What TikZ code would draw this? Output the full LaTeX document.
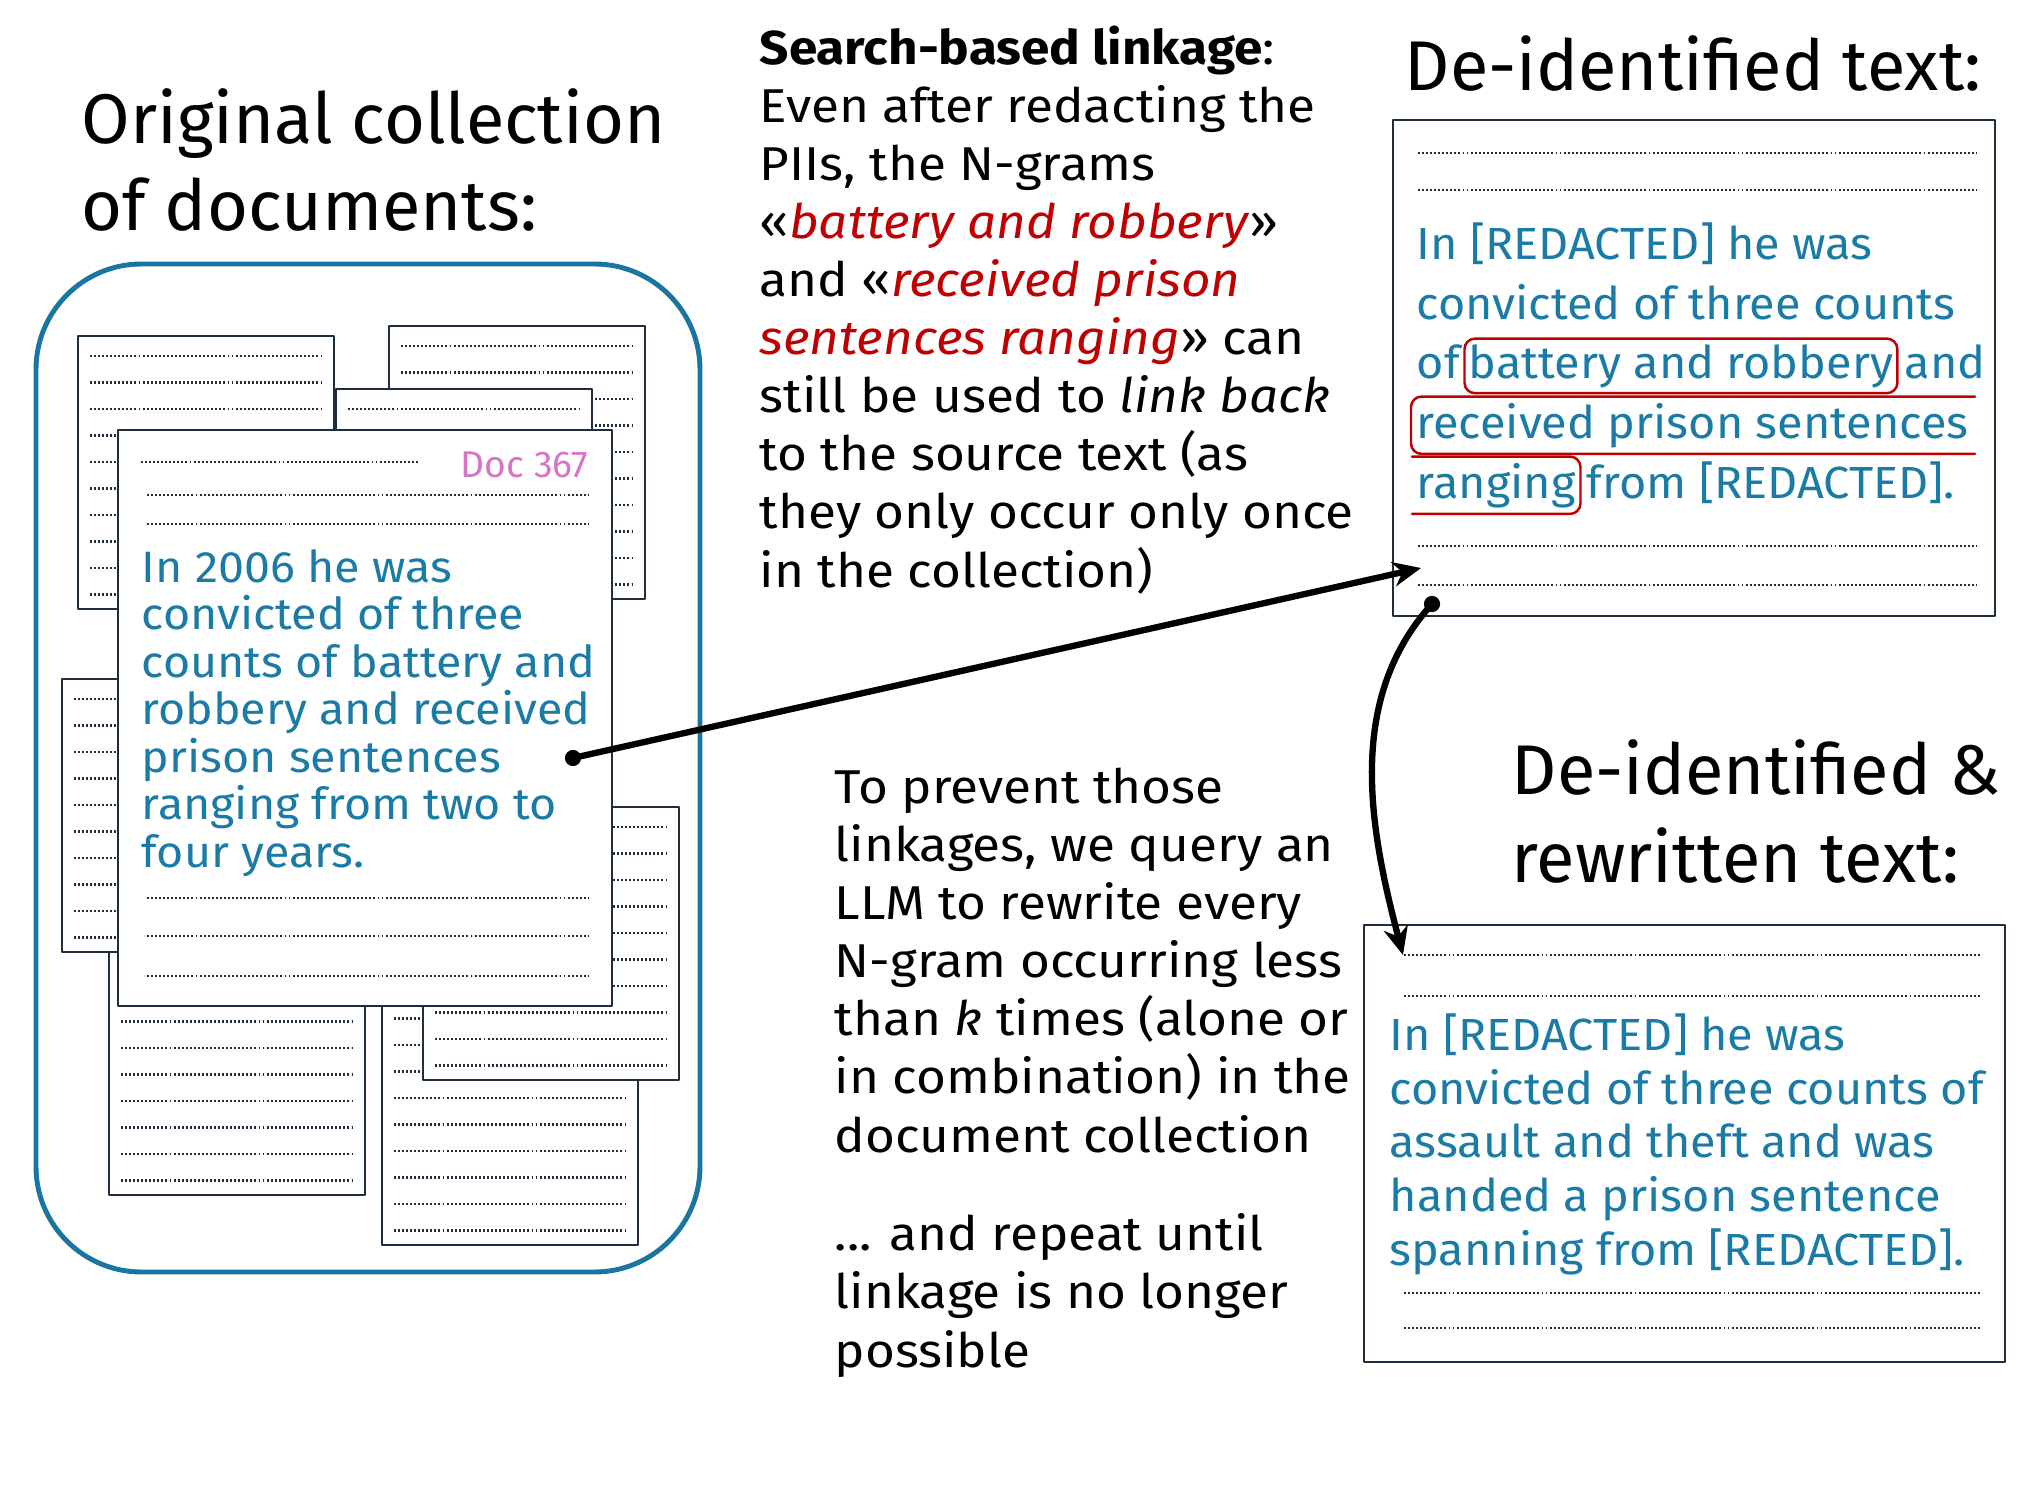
\documentclass[tikz,border=0pt]{standalone}
\usepackage{fontspec}
\setmainfont{Fira Sans}
\newfontfamily\bodyfont{Fira Sans}[FakeStretch=1.08]
\newfontfamily\widefont{Fira Sans}[FakeStretch=1.06]
\newfontfamily\narrowfont{Fira Sans}[FakeStretch=1.04]
\usetikzlibrary{calc,arrows.meta,positioning}

\definecolor{frameblue}{HTML}{1A75A0}
\definecolor{textblue}{HTML}{1A7BA6}
\definecolor{docpink}{HTML}{D774C8}
\definecolor{hlred}{HTML}{C00000}
\definecolor{sheetnavy}{HTML}{1E2E3E}

% ===== 紙（点線付き） =====
\newcommand\sheet[2]{%
  \draw[sheetbox] (#1,#2) rectangle ++(256,273);
  \foreach \k in {0,...,9}
    \draw[sheetline] (#1+12,#2+20+26.5*\k) -- ++(231,0);
}

\begin{document}
\begin{tikzpicture}[x=0.01cm, y=-0.01cm, >={Stealth[length=8pt,width=7pt]},
  line cap=round, line join=round,
  title/.style={anchor=base west, inner sep=0pt, align=left,
    font=\fontsize{20}{25}\selectfont},
  body/.style={anchor=base west, inner sep=0pt, align=left,
    font=\bodyfont\fontsize{13.5}{16.5}\selectfont},
  doctext/.style={anchor=base west, inner sep=0pt, align=left, text=textblue,
    font=\widefont\fontsize{12.5}{13.5}\selectfont},
  rtext/.style={anchor=base west, inner sep=0pt, align=left, text=textblue,
    font=\narrowfont\fontsize{12.8}{16.9}\selectfont},
  hl/.style={hlred, line width=0.7pt, rounded corners=3pt},
  sheetbox/.style={draw=sheetnavy, fill=white, line width=0.6pt},
  sheetline/.style={sheetnavy, line width=0.75pt, line cap=butt,
    dash pattern=on 0.55pt off 0.6pt},
  arrowline/.style={line width=1.8pt}]

  \useasboundingbox (0,0) rectangle (2039,1494);

  % ===== 見出し =====
  \node[title] (ttlorig) at (81,231) {Original collection\\of documents:};
  \node[title] (ttlde) at (1404,91) {De-identified text:};
  \node[title] (ttlrw) at (1511,882) {De-identified \&\\rewritten text:};

  % ===== 文書コレクション =====
  \draw[frameblue, line width=1.4pt, rounded corners=30pt] (36,264) rectangle (700,1272);

  \sheet{109}{922}
  \sheet{382}{972}
  \sheet{78}{336}
  \sheet{389}{326}
  \sheet{336}{389}
  \sheet{62}{679}
  \sheet{423}{807}

  % ---- Doc 367 ----
  \draw[sheetbox] (118,430) rectangle (612,1006);
  \draw[sheetline] (141,462) -- (418,462);
  \foreach \yy in {495,524,898,936,976}
    \draw[sheetline] (147,\yy) -- (589,\yy);
  \node[anchor=base east, inner sep=0pt, text=docpink,
    font=\fontsize{10.6}{12}\selectfont] (docid) at (589,477) {Doc 367};
  \node[doctext] (doctxt) at (141,867) {In 2006 he was\\convicted of three\\counts of battery and\\robbery and received\\prison sentences\\ranging from two to\\four years.};

  % ===== 中央の説明 =====
  \node[body] (linknote) at (759,587) {\textbf{Search-based linkage}:\\Even after redacting the\\PIIs, the N-grams\\«\textcolor{hlred}{\textit{battery and robbery}}»\\and «\textcolor{hlred}{\textit{received prison}}\\\textcolor{hlred}{\textit{sentences ranging}}» can\\still be used to \textit{link back}\\to the source text (as\\they only occur only once\\in the collection)};
  \node[body] (rewnote) at (834,1152) {To prevent those\\linkages, we query an\\LLM to rewrite every\\N-gram occurring less\\than \textit{k} times (alone or\\in combination) in the\\document collection};
  \node[body] (repnote) at (834,1367) {... and repeat until\\linkage is no longer\\possible};

  % ===== 匿名化テキスト =====
  \draw[sheetbox] (1393,120) rectangle (1995,616);
  \foreach \yy in {153,190,546,585}
    \draw[sheetline] (1418,\yy) -- (1977,\yy);
  \coordinate (rlim) at (1975,0);

  \node[rtext] (rl1) at (1416,260) {In [REDACTED] he was};
  \node[rtext] (rl2) at (1416,320) {convicted of three counts};
  \node[rtext] (rl3) at (1416,378) {of};
  \node[rtext, draw=hlred, line width=0.7pt, rounded corners=3pt,
    inner xsep=1.2pt, inner ysep=1.6pt, base right=0.8pt of rl3] (hlba) {battery and robbery};
  \node[rtext, base right=1.6pt of hlba] (rl3b) {and};
  \node[rtext, inner xsep=1.4pt, inner ysep=1.6pt] (hlrec) at (1411,438) {received prison sentences};
  \draw[hl] (hlrec.north -| rlim) -- (hlrec.north west) -- (hlrec.south west) -- (hlrec.south -| rlim);
  \node[rtext, inner xsep=1.2pt, inner ysep=1.6pt] (hlrang) at (1412,498) {ranging};
  \draw[hl] (hlrang.north west) -- (hlrang.north east) -- (hlrang.south east) -- (hlrang.south west);
  \node[rtext, base right=1.6pt of hlrang] (rl5b) {from [REDACTED].};

  % ===== 書き換えテキスト =====
  \draw[sheetbox] (1364,925) rectangle (2005,1362);
  \foreach \yy in {955,996,1293,1328}
    \draw[sheetline] (1404,\yy) -- (1980,\yy);
  \node[rtext, font=\narrowfont\fontsize{12.8}{15.25}\selectfont] (rwtxt) at (1389,1265) {In [REDACTED] he was\\convicted of three counts of\\assault and theft and was\\handed a prison sentence\\spanning from [REDACTED].};

  % ===== 矢印 =====
  \coordinate (srcdot) at (573,758);
  \coordinate (deidtip) at (1421,568);
  \coordinate (deiddot) at (1432,604);
  \coordinate (rwtip) at (1403,955);

  \fill (srcdot) circle (2.3pt);
  \draw[arrowline, ->] (srcdot) -- (deidtip);

  \fill (deiddot) circle (2.3pt);
  \draw[arrowline, ->] (deiddot) .. controls (1345,700) and (1370,830) .. (rwtip);

\end{tikzpicture}
\end{document}
